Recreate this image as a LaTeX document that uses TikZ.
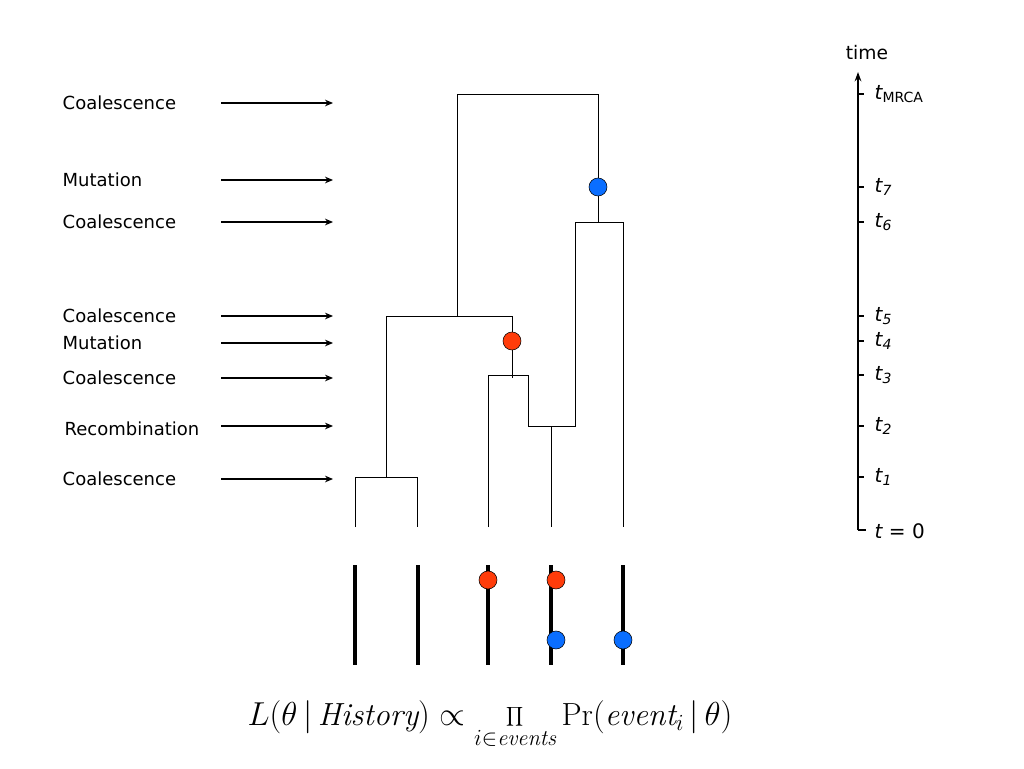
\documentclass[tikz,border=0pt]{standalone}
\usepackage{fontspec}
\setsansfont{DejaVu Sans}
\usetikzlibrary{arrows.meta}
\begin{document}
\begin{tikzpicture}[x=0.75pt,y=-0.75pt,
  br/.style={line width=0.6pt},
  lab/.style={anchor=west,font=\sffamily\fontsize{13.5}{15}\selectfont},
  arr/.style={-{Stealth[length=6pt,width=5pt]},line width=0.8pt},
  seq/.style={line width=2.3pt},
  red/.style={circle,fill={rgb,255:red,255;green,60;blue,10},draw=black,line width=0.4pt,minimum size=13.5pt,inner sep=0},
  blu/.style={circle,fill={rgb,255:red,10;green,110;blue,255},draw=black,line width=0.4pt,minimum size=13.5pt,inner sep=0},
  tl/.style={anchor=west,font=\sffamily\itshape\fontsize{15}{17}\selectfont}]
\useasboundingbox (0,0) rectangle (1024,768);
% tree
\draw[br] (355,527)--(355,477)--(417,477)--(417,527);
\draw[br] (386,477)--(386,316)--(512,316)--(512,378);
\draw[br] (457,316)--(457,94)--(598,94)--(598,222);
\draw[br] (488,527)--(488,375)--(528,375)--(528,426)--(575,426)--(575,222)--(623,222)--(623,527);
\draw[br] (551,426)--(551,527);
\node[red] (m4) at (512,341) {};
\node[blu] (m7) at (598,187) {};
% labels and arrows
\foreach \y/\t/\n in {103/Coalescence/a,180/Mutation/b,222/Coalescence/c,316/Coalescence/d,343/Mutation/e,378/Coalescence/f,479/Coalescence/h}{
  \node[lab] (l\n) at (58,\y) {\t};
  \coordinate (e\n) at (333,\y);
  \draw[arr] (221,\y)--(e\n);}
\node[lab] (lg) at (60,429) {Recombination};
\coordinate (eg) at (333,426);
\draw[arr] (221,426)--(eg);
% time axis
\coordinate (t0) at (858,530);
\coordinate (tt) at (858,72);
\draw[line width=1.4pt,-{Stealth[length=7pt,width=5pt]}] (t0)--(tt);
\draw[line width=1.4pt] (858,530)--(866,530);
\node[font=\sffamily\fontsize{14}{16}\selectfont] (time) at (867,53) {time};
\foreach \y/\t in {94/{t\textsubscript{\upshape MRCA}},187/{t\textsubscript{7}},222/{t\textsubscript{6}},316/{t\textsubscript{5}},341/{t\textsubscript{4}},375/{t\textsubscript{3}},426/{t\textsubscript{2}},477/{t\textsubscript{1}}}{
  \draw[line width=0.8pt] (858,\y)--(864,\y);
  \node[tl] at (870,\y) {\t};}
\node[tl] at (870,531) {t \upshape= 0};
% sequences
\foreach \x in {355,418,488,551,623}{\draw[seq] (\x,565)--(\x,665);}
\node[red] (r1) at (488,580) {};
\node[red] (r2) at (556,580) {};
\node[blu] (b1) at (556,640) {};
\node[blu] (b2) at (623,640) {};
% formula
\node[font=\fontsize{24}{28}\selectfont] (f) at (490,724) {$\displaystyle L(\theta\,|\,\mathit{History})\propto \prod_{i\in \mathit{events}}\mathrm{Pr}(\mathit{event}_i\,|\,\theta)$};
\end{tikzpicture}
\end{document}
